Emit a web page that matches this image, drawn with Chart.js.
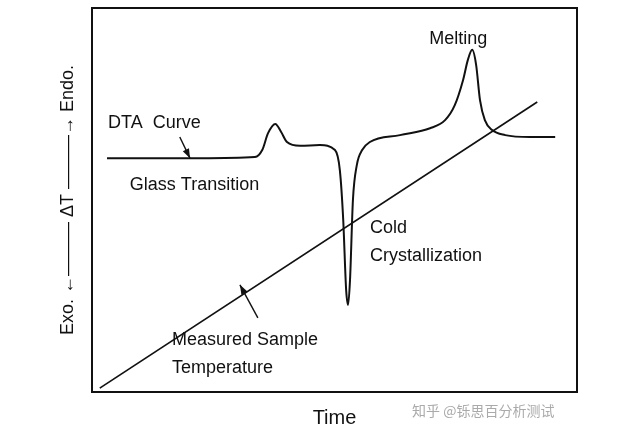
<!DOCTYPE html>
<html><head><meta charset="utf-8">
<script src="https://cdn.jsdelivr.net/npm/chart.js@4"></script>
<style>html,body{margin:0;background:#fff}#w{width:618px;height:440px}</style>
</head><body><div id="w"><canvas id="c"></canvas></div>
<script>
const dtaX=[3.1,22.3,33.6,35.1,36.3,37.8,39.0,40.2,42.9,47.0,50.1,51.1,51.8,52.4,52.8,53.2,53.8,54.6,55.7,57.3,63.5,69.7,72.8,74.8,76.5,77.5,78.4,79.2,80.0,81.0,82.5,85.2,90.3,95.5];
const dtaY=[60.9,60.9,61.2,63.0,67.4,69.8,67.7,65.1,64.1,64.3,63.0,57.8,44.8,26.6,22.7,29.2,50.0,59.1,63.0,65.1,66.9,68.7,70.8,74.7,81.2,86.5,89.1,85.2,76.0,70.8,68.2,66.9,66.4,66.4];
const tempX=[1.6,91.8];
const tempY=[1.0,75.5];
const labels=[
 {t:"Melting",x:75.5,y:92,a:"center"},
 {t:"DTA  Curve",x:3.3,y:70,a:"left"},
 {t:"Glass Transition",x:7.8,y:54,a:"left"},
 {t:"Cold",x:57.3,y:42.7,a:"left"},
 {t:"Crystallization",x:57.3,y:35.4,a:"left"},
 {t:"Measured Sample",x:16.5,y:13.5,a:"left"},
 {t:"Temperature",x:16.5,y:6.3,a:"left"}];
const arrows=[[18.1,66.4,20.2,60.9],[34.2,19.3,30.5,27.9]];
const deco={id:'deco',afterDraw(ch){
 const c=ch.ctx,a=ch.chartArea,sx=ch.scales.x,sy=ch.scales.y;
 c.save();c.strokeStyle='#111';c.lineWidth=2;c.strokeRect(a.left,a.top,a.right-a.left,a.bottom-a.top);
 c.fillStyle='#111';c.font='18px "Liberation Sans", Arial';c.textBaseline='middle';
 labels.forEach(l=>{c.textAlign=l.a;c.fillText(l.t,sx.getPixelForValue(l.x),sy.getPixelForValue(l.y));});
 arrows.forEach(r=>{const x1=sx.getPixelForValue(r[0]),y1=sy.getPixelForValue(r[1]),x2=sx.getPixelForValue(r[2]),y2=sy.getPixelForValue(r[3]);
  c.lineWidth=1.4;c.beginPath();c.moveTo(x1,y1);c.lineTo(x2,y2);c.stroke();
  const ang=Math.atan2(y2-y1,x2-x1);c.beginPath();c.moveTo(x2,y2);
  c.lineTo(x2-10*Math.cos(ang-0.35),y2-10*Math.sin(ang-0.35));c.lineTo(x2-10*Math.cos(ang+0.35),y2-10*Math.sin(ang+0.35));c.closePath();c.fill();});
 c.textAlign='center';c.font='20px "Liberation Sans", Arial';c.fillText('Time',(a.left+a.right)/2,a.bottom+26);
 c.save();c.translate(a.left-24,(a.top+a.bottom)/2);c.rotate(-Math.PI/2);
 c.font='18px "Liberation Sans", Arial';c.fillText('Exo. ←——— ΔT ———→ Endo.',0,0);c.restore();
 c.textAlign='left';c.fillStyle='#aaa';c.font='14px "Noto Sans CJK SC"';c.fillText('知乎 @铄思百分析测试',412,411);
 c.restore();}};
new Chart(document.getElementById('c'),{type:'scatter',
 data:{datasets:[
  {data:dtaX.map((x,i)=>({x,y:dtaY[i]})),showLine:true,borderColor:'#111',borderWidth:2,pointRadius:0,cubicInterpolationMode:'monotone'},
  {data:tempX.map((x,i)=>({x,y:tempY[i]})),showLine:true,borderColor:'#111',borderWidth:1.7,pointRadius:0}]},
 options:{animation:false,responsive:true,maintainAspectRatio:false,
  layout:{padding:{left:92,top:8,right:41,bottom:48}},
  plugins:{legend:{display:false},tooltip:{enabled:false}},
  scales:{x:{display:false,min:0,max:100},y:{display:false,min:0,max:100}}},
 plugins:[deco]});
</script></body></html>
